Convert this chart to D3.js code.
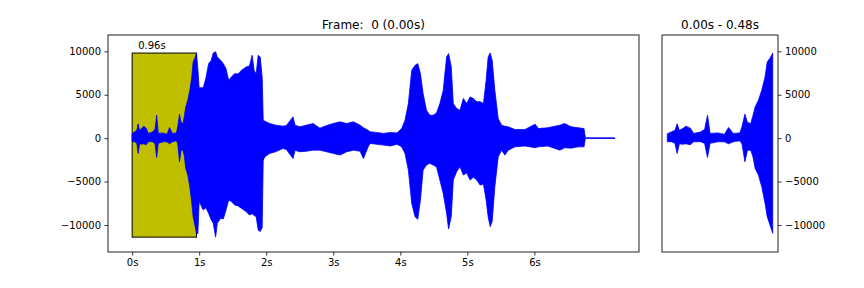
<!DOCTYPE html>
<html>
<head>
<meta charset="utf-8">
<script src="https://cdn.jsdelivr.net/npm/d3@7"></script>
<style>
  body { margin: 0; background: #fff; }
  text { font-family: "DejaVu Sans", sans-serif; }
</style>
</head>
<body>
<div id="chart"></div>
<script>
//Waveform envelope (seconds, upper / lower amplitude)
var times = [0.00, 0.04, 0.07, 0.09, 0.11, 0.14, 0.17, 0.21, 0.24, 0.30, 0.34, 0.366, 0.39, 0.46, 0.52, 0.558, 0.60, 0.66, 0.68, 0.707, 0.73, 0.76, 0.78, 0.80, 0.83, 0.86, 0.89, 0.91, 0.935, 0.96,
             0.98, 1.00, 1.06, 1.10, 1.14, 1.18, 1.21, 1.245, 1.27, 1.32, 1.36, 1.40, 1.44, 1.48, 1.53, 1.58, 1.63, 1.70, 1.75, 1.79, 1.82, 1.85, 1.88, 1.91, 1.94, 1.955, 1.98,
             2.05, 2.14, 2.25, 2.30, 2.40, 2.43, 2.50, 2.60, 2.70, 2.80, 2.90, 3.00, 3.10, 3.20, 3.30, 3.40, 3.45, 3.52, 3.55, 3.65, 3.75, 3.85, 3.95,
             4.02, 4.07, 4.12, 4.17, 4.22, 4.26, 4.30, 4.34, 4.39, 4.44, 4.49, 4.54, 4.59, 4.64, 4.69, 4.72, 4.76, 4.79, 4.84, 4.89, 4.94, 4.99,
             5.04, 5.09, 5.14, 5.19, 5.24, 5.28, 5.31, 5.34, 5.37, 5.41, 5.46, 5.51, 5.56, 5.61, 5.71, 5.86, 6.01, 6.06, 6.20, 6.38, 6.45, 6.55, 6.65, 6.74, 6.76, 7.20];
var upperEnv = [500, 730, 900, 1650, 900, 1100, 1380, 1150, 550, 700, 1000, 2640, 550, 600, 450, 1230, 550, 600, 1300, 2760, 1800, 1700, 2600, 3600, 4370, 5520, 7050, 8770, 9200, 9800,
                8000, 5800, 5800, 6900, 8580, 8960, 9800, 9960, 9350, 8960, 8580, 8000, 6660, 7050, 7430, 7400, 7810, 8200, 8300, 9540, 7800, 7400, 9540, 9350, 7000, 2070, 1950,
                1690, 1500, 1380, 1450, 2450, 1500, 1300, 1500, 1690, 1150, 1450, 1690, 1880, 1690, 1880, 1500, 1200, 900, 730, 650, 550, 650, 600,
                1100, 2070, 3980, 7810, 8390, 8580, 7430, 5130, 3220, 2640, 2640, 2900, 3980, 5510, 9350, 9740, 8200, 3980, 3410, 3220, 4560, 3980,
                4750, 4560, 4200, 4200, 4000, 6660, 9350, 9810, 8960, 5510, 2260, 1500, 1380, 1300, 1000, 1000, 1610, 1100, 1200, 1500, 1690, 1300, 1200, 1100, 40, 40];
var lowerEnv = [-400, -420, -600, -1760, -650, -700, -650, -750, -420, -400, -600, -2220, -600, -420, -420, -650, -420, -300, -650, -2720, -1380, -1400, -2150, -3490, -4250, -5590, -7500, -9040, -10000, -10950,
                -11000, -7300, -8270, -8000, -8650, -9420, -9800, -11400, -9800, -9230, -9300, -8270, -7120, -7300, -7700, -7800, -8080, -8460, -8850, -8700, -8900, -9040, -10570, -10760, -10300, -2530, -2150,
                -1760, -1570, -1190, -1300, -2340, -1400, -1570, -1500, -1380, -1380, -1570, -1760, -1950, -1570, -1380, -1500, -2340, -1000, -610, -700, -800, -900, -700,
                -1000, -1760, -3680, -7500, -9040, -9350, -7120, -3680, -3100, -2900, -3100, -3300, -4830, -6360, -8650, -10460, -9000, -4830, -3870, -3300, -4250, -4000,
                -4830, -4500, -4830, -5400, -5300, -7120, -9040, -10190, -9610, -5590, -2150, -1380, -1950, -1380, -1000, -900, -1100, -1000, -900, -1380, -1100, -1150, -1000, -1000, -40, -40];

//Axis ticks, highlighted frame window and texts
var xTicks = [0, 1, 2, 3, 4, 5, 6];
var yTicks = [-10000, -5000, 0, 5000, 10000];
var frameWindow = [0, 0.96];
var frameRange = [-11400, 9800];
var yLimits = [-13110, 11880];
var mainTitle = "Frame:  0 (0.00s)";
var sideTitle = "0.00s - 0.48s";
var windowLabel = "0.96s";

//Canvas and the two panels
var width = 864,
    height = 288;

var mainBox = { left: 108, right: 639, top: 35, bottom: 252 };
var sideBox = { left: 662, right: 778, top: 35, bottom: 252 };

var wave = times.map(function(t, i) { return { t: t, hi: upperEnv[i], lo: lowerEnv[i] }; });
var frameWave = wave.filter(function(d) { return d.t >= frameWindow[0] && d.t <= frameWindow[1]; });

var svg = d3.select("#chart")
            .append("svg")
            .attr("width", width)
            .attr("height", height);

//Scales (5% padding on x like matplotlib)
var tExtent = d3.extent(times);
var tPad = (tExtent[1] - tExtent[0]) * 0.05;
var xMain = d3.scaleLinear().domain([tExtent[0] - tPad, tExtent[1] + tPad]).range([mainBox.left, mainBox.right]);

var fPad = (frameWindow[1] - frameWindow[0]) * 0.05;
var xSide = d3.scaleLinear().domain([frameWindow[0] - fPad, frameWindow[1] + fPad]).range([sideBox.left, sideBox.right]);

var yMain = d3.scaleLinear().domain(yLimits).range([mainBox.bottom, mainBox.top]);

// clip paths for each panel
var defs = svg.append("defs");
[["clipMain", mainBox], ["clipSide", sideBox]].forEach(function(c) {
  defs.append("clipPath").attr("id", c[0])
      .append("rect")
      .attr("x", c[1].left).attr("y", c[1].top)
      .attr("width", c[1].right - c[1].left).attr("height", c[1].bottom - c[1].top);
});

//Main panel: highlighted window then the waveform
var mainG = svg.append("g").attr("clip-path", "url(#clipMain)");

mainG.append("rect")
     .attr("x", xMain(frameWindow[0]))
     .attr("y", yMain(frameRange[1]))
     .attr("width", xMain(frameWindow[1]) - xMain(frameWindow[0]))
     .attr("height", yMain(frameRange[0]) - yMain(frameRange[1]))
     .attr("fill", "#bfbf00")
     .attr("stroke", "#000")
     .attr("stroke-width", 1);

function waveArea(x) {
  return d3.area()
           .x(function(d) { return x(d.t); })
           .y0(function(d) { return yMain(d.lo); })
           .y1(function(d) { return yMain(d.hi); });
}

mainG.append("path")
     .datum(wave)
     .attr("d", waveArea(xMain))
     .attr("fill", "#0000ff")
     .attr("stroke", "#0000ff")
     .attr("stroke-width", 0.8)
     .attr("stroke-linejoin", "round");

svg.append("text")
   .attr("x", xMain(frameWindow[0]) + 6)
   .attr("y", yMain(frameRange[1]) - 4)
   .attr("font-size", 10)
   .text(windowLabel);

//Side panel: the frame window zoomed
svg.append("g").attr("clip-path", "url(#clipSide)")
   .append("path")
   .datum(frameWave)
   .attr("d", waveArea(xSide))
   .attr("fill", "#0000ff")
   .attr("stroke", "#0000ff")
   .attr("stroke-width", 0.8)
   .attr("stroke-linejoin", "round");

//Frames
[mainBox, sideBox].forEach(function(b) {
  svg.append("rect")
     .attr("x", b.left).attr("y", b.top)
     .attr("width", b.right - b.left).attr("height", b.bottom - b.top)
     .attr("fill", "none")
     .attr("stroke", "#222")
     .attr("stroke-width", 1);
});

//Axes
function styleAxis(g) {
  g.select(".domain").remove();
  g.selectAll("text").attr("font-family", "DejaVu Sans, sans-serif").attr("font-size", 10).attr("fill", "#000");
  g.selectAll("line").attr("stroke", "#000").attr("stroke-width", 0.8);
}

svg.append("g")
   .attr("transform", "translate(0," + mainBox.bottom + ")")
   .call(d3.axisBottom(xMain).tickValues(xTicks).tickFormat(function(d) { return d + "s"; }).tickSize(3.5).tickPadding(3.5))
   .call(styleAxis);

svg.append("g")
   .attr("transform", "translate(" + mainBox.left + ",0)")
   .call(d3.axisLeft(yMain).tickValues(yTicks).tickFormat(d3.format("d")).tickSize(3.5).tickPadding(3.5))
   .call(styleAxis);

svg.append("g")
   .attr("transform", "translate(" + sideBox.right + ",0)")
   .call(d3.axisRight(yMain).tickValues(yTicks).tickFormat(d3.format("d")).tickSize(3.5).tickPadding(3.5))
   .call(styleAxis);

//Titles
svg.append("text")
   .attr("x", (mainBox.left + mainBox.right) / 2)
   .attr("y", mainBox.top - 6)
   .attr("text-anchor", "middle")
   .attr("font-size", 12)
   .style("white-space", "pre")
   .text(mainTitle);

svg.append("text")
   .attr("x", (sideBox.left + sideBox.right) / 2)
   .attr("y", sideBox.top - 6)
   .attr("text-anchor", "middle")
   .attr("font-size", 12)
   .text(sideTitle);
</script>
</body>
</html>
